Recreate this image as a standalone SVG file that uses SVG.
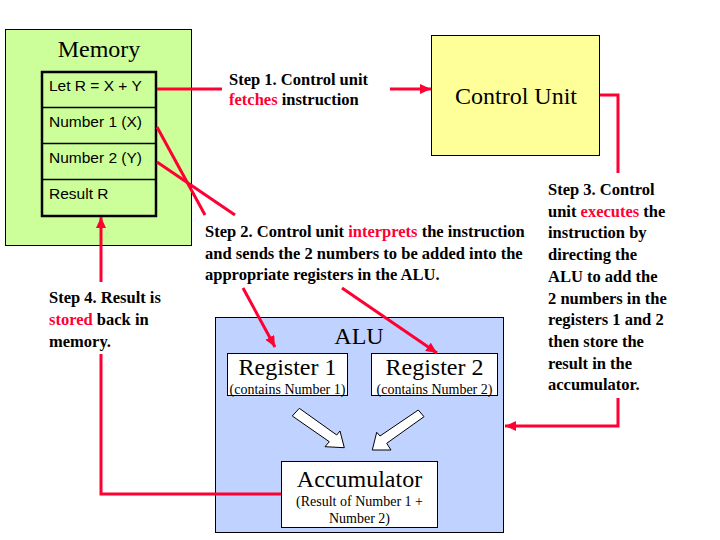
<svg xmlns="http://www.w3.org/2000/svg" width="720" height="540" viewBox="0 0 720 540">
<defs>
<style>
.box{stroke:#000;stroke-width:1}
.title{font-family:"Liberation Serif","Times New Roman",serif;font-size:24px;fill:#000;text-anchor:middle}
.small{font-family:"Liberation Serif","Times New Roman",serif;font-size:14px;fill:#000;text-anchor:middle}
.cell{font-family:"Liberation Sans",Arial,sans-serif;font-size:15.5px;fill:#000}
.step{font-family:"Liberation Serif","Times New Roman",serif;font-size:16.5px;font-weight:bold;fill:#000}
.hl{fill:#FF0033}
.wire{fill:none;stroke:#FF0033;stroke-width:3}
.block{fill:#fff;stroke:#000;stroke-width:1}
</style>
<marker id="ah" markerUnits="userSpaceOnUse" markerWidth="12" markerHeight="10" refX="11" refY="5" orient="auto">
<path d="M0,0 L11,5 L0,10 Z" fill="#FF0033"/>
</marker>
</defs>
<rect width="720" height="540" fill="#fff"/>

<g id="memory">
<rect class="box" x="5.5" y="29.5" width="186" height="216" fill="#CCFF99"/>
<text class="title" x="99" y="57">Memory</text>
<rect x="42" y="72" width="114" height="144" fill="none" stroke="#000" stroke-width="2.5"/>
<line x1="42" y1="107.5" x2="156" y2="107.5" stroke="#000" stroke-width="1.5"/>
<line x1="42" y1="143.5" x2="156" y2="143.5" stroke="#000" stroke-width="1.5"/>
<line x1="42" y1="179.5" x2="156" y2="179.5" stroke="#000" stroke-width="1.5"/>
<text class="cell" x="49" y="91">Let R = X + Y</text>
<text class="cell" x="49" y="127">Number 1 (X)</text>
<text class="cell" x="49" y="163">Number 2 (Y)</text>
<text class="cell" x="49" y="199">Result R</text>
</g>

<g id="control-unit">
<rect class="box" x="431.5" y="35.5" width="168" height="120" fill="#FFFF99"/>
<text class="title" x="516" y="104">Control Unit</text>
</g>

<g id="alu">
<rect class="box" x="215.5" y="317.5" width="288" height="215" fill="#C0D2FF"/>
<text class="title" x="359" y="344">ALU</text>
</g>

<g id="register1">
<rect class="box" x="227.5" y="353.5" width="120" height="42" fill="#fff"/>
<text class="title" x="287.5" y="375">Register 1</text>
<text class="small" x="287.5" y="394">(contains Number 1)</text>
</g>

<g id="register2">
<rect class="box" x="371.5" y="353.5" width="126" height="42" fill="#fff"/>
<text class="title" x="434.5" y="375">Register 2</text>
<text class="small" x="434.5" y="394">(contains Number 2)</text>
</g>

<g id="accumulator">
<rect class="box" x="281.5" y="461.5" width="156" height="66" fill="#fff"/>
<text class="title" x="359.5" y="487">Accumulator</text>
<text class="small" x="359.5" y="506">(Result of Number 1 +</text>
<text class="small" x="359.5" y="523">Number 2)</text>
</g>

<g id="block-arrows">
<polygon class="block" points="292.3,416 299.3,408.3 336.7,435 340,431 344.3,447.7 325,446.7 329.3,441.7"/>
<polygon class="block" points="418.3,410 424,416.7 386.7,443.3 391,450 372.3,450 376.7,432.3 380,436"/>
</g>

<g id="step1">
<text class="step" x="229" y="85">Step 1. Control unit</text>
<text class="step" x="229" y="105"><tspan class="hl">fetches</tspan> instruction</text>
</g>

<g id="step2">
<text class="step" x="205" y="237">Step 2. Control unit <tspan class="hl">interprets</tspan> the instruction</text>
<text class="step" x="205" y="258.5">and sends the 2 numbers to be added into the</text>
<text class="step" x="205" y="280">appropriate registers in the ALU.</text>
</g>

<g id="step3">
<text class="step" x="548" y="195">Step 3. Control</text>
<text class="step" x="548" y="216.7">unit <tspan class="hl">executes</tspan> the</text>
<text class="step" x="548" y="238.4">instruction by</text>
<text class="step" x="548" y="260.1">directing the</text>
<text class="step" x="548" y="281.8">ALU to add the</text>
<text class="step" x="548" y="303.5">2 numbers in the</text>
<text class="step" x="548" y="325.2">registers 1 and 2</text>
<text class="step" x="548" y="346.9">then store the</text>
<text class="step" x="548" y="368.6">result in the</text>
<text class="step" x="548" y="390.3">accumulator.</text>
</g>

<g id="step4">
<text class="step" x="49" y="303">Step 4. Result is</text>
<text class="step" x="49" y="325"><tspan class="hl">stored</tspan> back in</text>
<text class="step" x="49" y="347">memory.</text>
</g>

<g id="connectors">
<line class="wire" x1="157" y1="89" x2="222" y2="89"/>
<line class="wire" x1="390" y1="89" x2="431" y2="89" marker-end="url(#ah)"/>
<polyline class="wire" points="600,95 618,95 618,173"/>
<line class="wire" x1="157" y1="127" x2="205" y2="215"/>
<line class="wire" x1="157" y1="162" x2="235" y2="215"/>
<line class="wire" x1="243" y1="288" x2="275" y2="347" marker-end="url(#ah)"/>
<line class="wire" x1="342" y1="288" x2="437" y2="353" marker-end="url(#ah)"/>
<polyline class="wire" points="618,398 618,426 505,426" marker-end="url(#ah)"/>
<polyline class="wire" points="281,494 101,494 101,354"/>
<line class="wire" x1="101" y1="282" x2="101" y2="217" marker-end="url(#ah)"/>
</g>
</svg>
